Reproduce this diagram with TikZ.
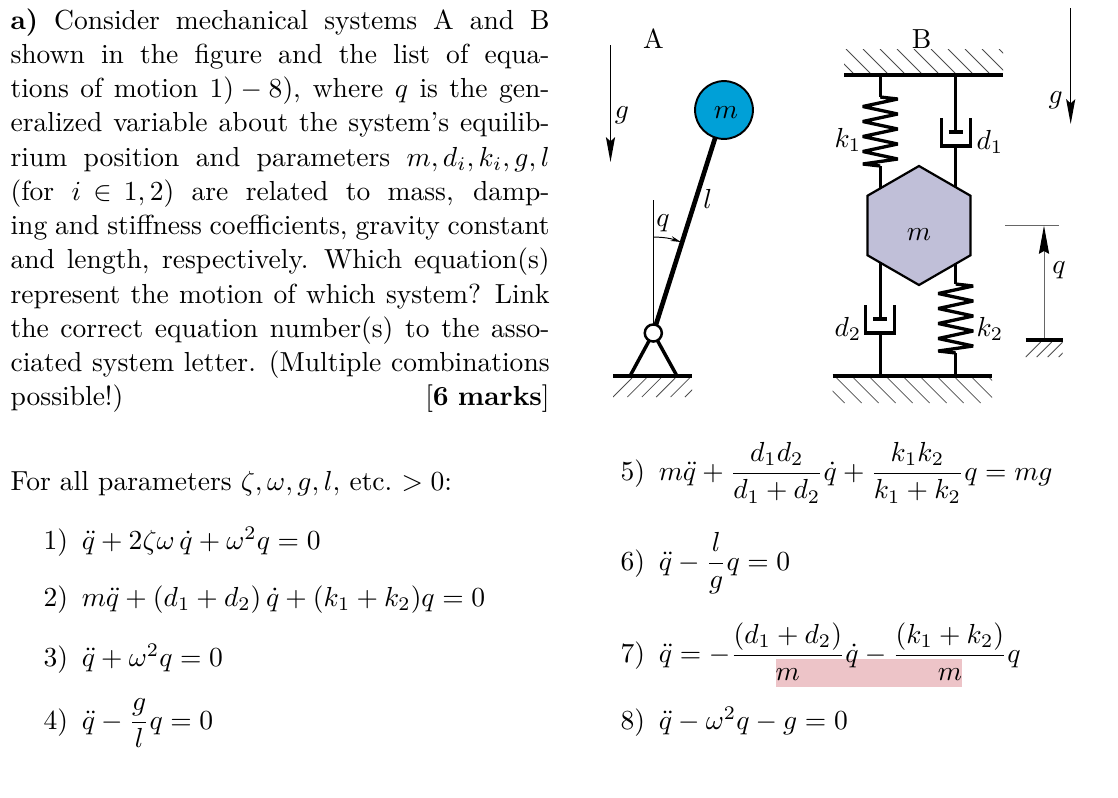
\documentclass[tikz,border=0pt]{standalone}
\usepackage{amsmath}
\usetikzlibrary{arrows.meta,shapes.geometric}

\newcommand{\probline}[1]{\hbox to 195.7pt{\spaceskip=.333em plus .5em minus .1em \xspaceskip=.45em plus .6em minus .1em #1}\vskip 0.43pt}

\tikzset{
  x=0.363pt, y=-0.363pt,
  beam/.style={line width=1.25pt},
  rod/.style={line width=1.7pt},
  hatchline/.style={line width=0.28pt, black!70},
  thinline/.style={line width=0.35pt, black!60},
  gravity/.style={line width=0.45pt, -{Stealth[length=9pt,width=3.3pt,inset=1.5pt]}},
  eqn/.style={anchor=base west, inner sep=0pt},
  lbl/.style={inner sep=0pt},
  springb/.pic={
    \draw[line width=1.2pt, line join=bevel] (0,0) -- (17.5,2) -- (-17.5,9.5) -- (17.5,17) -- (-17.5,24.5)
      -- (17.5,32) -- (-17.5,39.5) -- (17.5,47) -- (-17.5,54.5) -- (17.5,62)
      -- (-17.5,67) -- (0,69);
  },
  damperb/.pic={
    \draw[line width=1.2pt] (-14.5,0) -- (-14.5,28) -- (14.5,28) -- (14.5,0);
    \draw[line width=1.2pt] (-7,14) -- (7,14);
  }
}

\begin{document}
\begin{tikzpicture}
  \useasboundingbox (0,0) rectangle (1118,798);

  % problem text
  \node[anchor=north west, inner sep=0pt, text width=195.7pt] (problem) at (10,8) {%
    \probline{\textbf{a)} Consider mechanical systems A and B}
    \probline{shown in the figure and the list of equa-}
    \probline{tions of motion $1)-8)$, where $q$ is the gen-}
    \probline{eralized variable about the system's equilib-}
    \probline{rium position and parameters $m,d_i,k_i,g,l$}
    \probline{(for $i\in 1,2$) are related to mass, damp-}
    \probline{ing and stiffness coefficients, gravity constant}
    \probline{and length, respectively. Which equation(s)}
    \probline{represent the motion of which system? Link}
    \probline{the correct equation number(s) to the asso-}
    \probline{ciated system letter. (Multiple combinations}
    \probline{possible!)\hfill[\textbf{6 marks}]}};

  % equations, left column
  \node[eqn] (forall) at (10,490) {For all parameters $\zeta,\omega,g,l,$ etc.\ $>0$:};
  \node[eqn] (eqone) at (43,549) {1)\enspace $\ddot q+2\zeta\omega\,\dot q+\omega^2q=0$};
  \node[eqn] (eqtwo) at (43,606) {2)\enspace $m\ddot q+(d_1+d_2)\,\dot q+(k_1+k_2)q=0$};
  \node[eqn] (eqthree) at (43,666) {3)\enspace $\ddot q+\omega^2q=0$};
  \node[eqn] (eqfour) at (43,729) {4)\enspace $\ddot q-\dfrac{g}{l}q=0$};

  % highlight sits under equation 7
  \fill[fill={rgb,255:red,237;green,196;blue,200}] (776,659) rectangle (962,687);

  % equations, right column
  \node[eqn] (eqfive) at (620,480) {5)\enspace $m\ddot q+\dfrac{d_1d_2}{d_1+d_2}\dot q+\dfrac{k_1k_2}{k_1+k_2}q=mg$};
  \node[eqn] (eqsix) at (620,570) {6)\enspace $\ddot q-\dfrac{l}{g}q=0$};
  \node[eqn] (eqseven) at (620,662) {7)\enspace $\ddot q=-\dfrac{(d_1+d_2)}{m}\dot q-\dfrac{(k_1+k_2)}{m}q$};
  \node[eqn] (eqeight) at (620,729) {8)\enspace $\ddot q-\omega^2q-g=0$};

  % system A
  \coordinate (gAtop) at (610.5,45);
  \coordinate (gAend) at (610.5,162);
  \coordinate (vertA) at (653.3,200);
  \coordinate (arcA) at (653.3,237);
  \coordinate (arcB) at (681,242);
  \coordinate (footL) at (630,376);
  \coordinate (footR) at (677,376);
  \coordinate (groundAl) at (613,376);
  \coordinate (groundAr) at (692,376);

  \draw[gravity] (gAtop) -- (gAend);
  \node[lbl] (labA) at (653.5,39) {A};
  \node[lbl] (labgA) at (622,115) {$g$};

  \begin{scope}
    \clip (613,378) rectangle (692,397);
    \foreach \x in {613,627.4,...,700} {
      \draw[hatchline] (\x,397) -- (\x+19,378);
    }
  \end{scope}
  \draw[beam] (groundAl) -- (groundAr);
  \draw[thinline, black] (vertA) -- (653.3,333);
  \draw[beam] (footL) -- (653.3,333) -- (footR);
  \draw[line width=0.35pt, -{Stealth[length=3.8pt,width=1.8pt]}] (arcA) to[bend left=9] (arcB);

  \coordinate (pivotc) at (653.3,333);
  \coordinate (massc) at (724,110);
  \draw[rod] (pivotc) -- (massc);
  \node[circle, draw, line width=0.9pt, fill=white, minimum size=6.2pt, inner sep=0pt, outer sep=0pt] (pivot) at (pivotc) {};
  \node[circle, draw, line width=0.7pt, fill={rgb,255:red,0;green,160;blue,215}, minimum size=21pt, inner sep=0pt, outer sep=0pt] (massA) at (massc) {};
  \node[lbl] (labmA) at (726,113) {$m$};
  \node[lbl] (labl) at (707.7,199) {$l$};
  \node[lbl] (labqA) at (663,223) {$q$};

  % system B, grounds
  \begin{scope}
    \clip (844,49) rectangle (1003,73);
    \foreach \x in {812,829,...,1003} {
      \draw[hatchline] (\x,49) -- (\x+24,73);
    }
  \end{scope}
  \begin{scope}
    \clip (832.7,378) rectangle (992,403);
    \foreach \x in {802.7,819.7,...,992} {
      \draw[hatchline] (\x,378) -- (\x+25,403);
    }
  \end{scope}
  \draw[beam] (844,75) -- (1003,75);
  \draw[beam] (832.7,376) -- (992,376);
  \node[lbl] (labB) at (921.7,39) {B};

  % system B, upper spring and damper
  \draw[beam] (880.3,75) -- (880.3,97);
  \pic at (880.3,97) {springb};
  \draw[beam] (880.3,166) -- (880.3,190);
  \draw[beam] (955.7,75) -- (955.7,132);
  \pic at (955.7,118) {damperb};
  \draw[beam] (955.7,146) -- (955.7,190);

  % system B, lower damper and spring
  \draw[beam] (880.3,255) -- (880.3,319);
  \pic at (880.3,305) {damperb};
  \draw[beam] (880.3,333) -- (880.3,376);
  \draw[beam] (955.7,255) -- (955.7,284);
  \pic at (955.7,284) {springb};
  \draw[beam] (955.7,353) -- (955.7,376);

  \node[regular polygon, regular polygon sides=6, shape border rotate=90, draw, line width=0.8pt,
    fill={rgb,255:red,192;green,191;blue,216}, minimum size=43.2pt,
    inner sep=0pt, outer sep=0pt] (massB) at (919,225.5) {};
  \node[lbl] (labmB) at (919,235) {$m$};
  \node[lbl] (labkone) at (848,140) {$k_1$};
  \node[lbl] (labdone) at (990,142) {$d_1$};
  \node[lbl] (labdtwo) at (848,329) {$d_2$};
  \node[lbl] (labktwo) at (990,329) {$k_2$};

  % right side: gravity and q
  \coordinate (gBtop) at (1070.7,8);
  \coordinate (gBend) at (1070.7,124);
  \draw[gravity] (gBtop) -- (gBend);
  \node[lbl] (labgB) at (1055.7,100) {$g$};

  \coordinate (qlow) at (1044,340);
  \coordinate (qtop) at (1044,225.7);
  \draw[thinline] (1005,225.7) -- (1058.7,225.7);
  \draw[thinline, -{Stealth[length=10.2pt,width=3.7pt,inset=1pt,black]}] (qlow) -- (qtop);
  \begin{scope}
    \clip (1025.7,342) rectangle (1062.7,357);
    \foreach \x in {1025.7,1036.7,...,1063} {
      \draw[hatchline] (\x,357) -- (\x+15,342);
    }
  \end{scope}
  \draw[beam] (1025.7,340) -- (1062.7,340);
  \node[lbl] (labq) at (1059,270) {$q$};
\end{tikzpicture}
\end{document}
